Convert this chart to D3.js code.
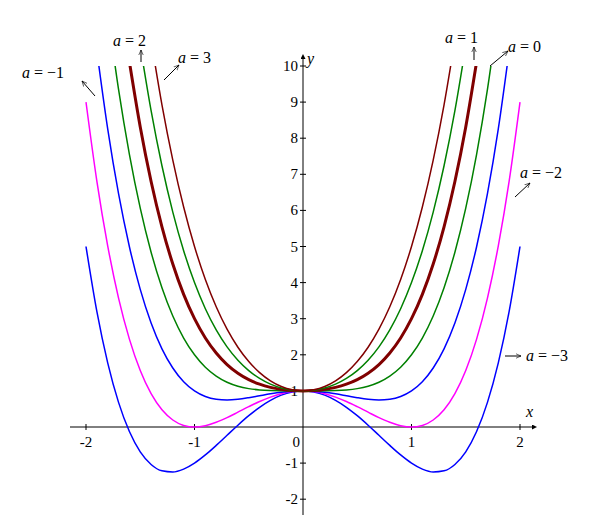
<!DOCTYPE html><html><head><meta charset="utf-8"><script src="https://cdn.jsdelivr.net/npm/d3@7"></script>
<style>body{margin:0;background:#fff}text{font-family:"Liberation Serif","Times New Roman",serif}</style></head><body><svg id="c" width="590" height="521"></svg><script>
const xs = d3.range(-20,21).map(i=>i/10);
const aM3 = [5,3.202,1.778,0.682,-0.126,-0.688,-1.038,-1.214,-1.246,-1.166,-1,-0.774,-0.510,-0.230,0.050,0.313,0.546,0.738,0.882,0.970,1,0.970,0.882,0.738,0.546,0.313,0.050,-0.230,-0.510,-0.774,-1,-1.166,-1.246,-1.214,-1.038,-0.688,-0.126,0.682,1.778,3.202,5];
const aM2 = [9,6.812,5.018,3.572,2.434,1.563,0.922,0.476,0.194,0.044,0,0.036,0.130,0.260,0.410,0.563,0.706,0.828,0.922,0.980,1,0.980,0.922,0.828,0.706,0.563,0.410,0.260,0.130,0.036,0,0.044,0.194,0.476,0.922,1.563,2.434,3.572,5.018,6.812,9];
const aM1 = [null,10.422,8.258,6.462,4.994,3.813,2.882,2.166,1.634,1.254,1,0.846,0.770,0.750,0.770,0.813,0.866,0.918,0.962,0.990,1,0.990,0.962,0.918,0.866,0.813,0.770,0.750,0.770,0.846,1,1.254,1.634,2.166,2.882,3.813,4.994,6.462,8.258,10.422,null];
const a0 = [null,null,11.498,9.352,7.554,6.063,4.842,3.856,3.074,2.464,2,1.656,1.410,1.240,1.130,1.063,1.026,1.008,1.002,1.000,1,1.000,1.002,1.008,1.026,1.063,1.130,1.240,1.410,1.656,2,2.464,3.074,3.856,4.842,6.063,7.554,9.352,11.498,null,null];
const a1 = [null,null,null,null,10.114,8.313,6.802,5.546,4.514,3.674,3,2.466,2.050,1.730,1.490,1.313,1.186,1.098,1.042,1.010,1,1.010,1.042,1.098,1.186,1.313,1.490,1.730,2.050,2.466,3,3.674,4.514,5.546,6.802,8.313,10.114,null,null,null,null];
const a2 = [null,null,null,null,null,10.563,8.762,7.236,5.954,4.884,4,3.276,2.690,2.220,1.850,1.563,1.346,1.188,1.082,1.020,1,1.020,1.082,1.188,1.346,1.563,1.850,2.220,2.690,3.276,4,4.884,5.954,7.236,8.762,10.563,null,null,null,null,null];
const a3 = [null,null,null,null,null,null,10.722,8.926,7.394,6.094,5,4.086,3.330,2.710,2.210,1.813,1.506,1.278,1.122,1.030,1,1.030,1.122,1.278,1.506,1.813,2.210,2.710,3.330,4.086,5,6.094,7.394,8.926,10.722,null,null,null,null,null,null];
const xTicks=[-2,-1,1,2], yTicks=[-2,-1,1,2,3,4,5,6,7,8,9,10];
const series=[{v:aM3,c:"#0000ff",w:1.5},{v:aM2,c:"#ff00ff",w:1.5},{v:aM1,c:"#0000ff",w:1.5},{v:a0,c:"#008000",w:1.5},{v:a1,c:"#800000",w:3},{v:a2,c:"#008000",w:1.5},{v:a3,c:"#800000",w:1.5}];
const labels=[{t:"−1",x:22,y:78,ax:[95,96,82,81]},{t:"2",x:113,y:46,ax:[141,62,141,50]},{t:"3",x:178,y:63,ax:[164,80,179,65]},{t:"1",x:445,y:43,ax:[474,60,474,47]},{t:"0",x:508,y:52,ax:[490,66,508,51]},{t:"−2",x:520,y:178,ax:[515,197,530,183]},{t:"−3",x:526,y:361,ax:[505,356,521,356]}];
const svg=d3.select("#c");
const x=d3.scaleLinear().domain([-2,2]).range([86,520]);
const y=d3.scaleLinear().domain([0,10]).range([427,66]);
svg.append("defs").append("marker").attr("id","ar").attr("viewBox","0 0 10 10").attr("refX",9).attr("refY",5).attr("markerWidth",6).attr("markerHeight",6).attr("orient","auto").append("path").attr("d","M0,1L9,5L0,9").attr("fill","none").attr("stroke","#000");
svg.append("defs").append("marker").attr("id","ax").attr("viewBox","0 0 10 10").attr("refX",2).attr("refY",5).attr("markerWidth",5).attr("markerHeight",5).attr("orient","auto").append("path").attr("d","M0,0L10,5L0,10z").attr("fill","#000");
svg.append("clipPath").attr("id","cl").append("rect").attr("x",0).attr("y",y(10)).attr("width",590).attr("height",500);
const g=svg.append("g");
// axes
g.append("line").attr("x1",70).attr("x2",533).attr("y1",y(0)).attr("y2",y(0)).attr("stroke","#000").attr("marker-end","url(#ax)");
g.append("line").attr("x1",x(0)).attr("x2",x(0)).attr("y1",515).attr("y2",58).attr("stroke","#000").attr("marker-end","url(#ax)");
xTicks.forEach(t=>{g.append("line").attr("x1",x(t)).attr("x2",x(t)).attr("y1",y(0)-3).attr("y2",y(0)+3).attr("stroke","#000");
 g.append("text").attr("x",x(t)).attr("y",y(0)+20).attr("text-anchor","middle").attr("font-size",15).text(t<0?"-"+(-t):t);});
g.append("text").attr("x",x(0)-3).attr("y",y(0)+20).attr("text-anchor","end").attr("font-size",15).text("0");
yTicks.forEach(t=>{g.append("line").attr("x1",x(0)-3).attr("x2",x(0)+3).attr("y1",y(t)).attr("y2",y(t)).attr("stroke","#000");
 g.append("text").attr("x",x(0)-5).attr("y",y(t)+5).attr("text-anchor","end").attr("font-size",15).text(t<0?"-"+(-t):t);});
g.append("text").attr("x",x(0)+4).attr("y",64).attr("font-size",16).attr("font-style","italic").text("y");
g.append("text").attr("x",526).attr("y",417).attr("font-size",16).attr("font-style","italic").text("x");
const line=d3.line().defined(d=>d!=null).x((d,i)=>x(xs[i])).y(d=>y(d)).curve(d3.curveMonotoneX);
series.forEach(s=>g.append("path").attr("d",line(s.v)).attr("fill","none").attr("stroke",s.c).attr("stroke-width",s.w).attr("clip-path","url(#cl)"));
labels.forEach(l=>{const t=g.append("text").attr("x",l.x).attr("y",l.y).attr("font-size",16);
 t.append("tspan").attr("font-style","italic").text("a");t.append("tspan").text(" = "+l.t);
 g.append("line").attr("x1",l.ax[0]).attr("y1",l.ax[1]).attr("x2",l.ax[2]).attr("y2",l.ax[3]).attr("stroke","#000").attr("marker-end","url(#ar)");});
</script></body></html>
